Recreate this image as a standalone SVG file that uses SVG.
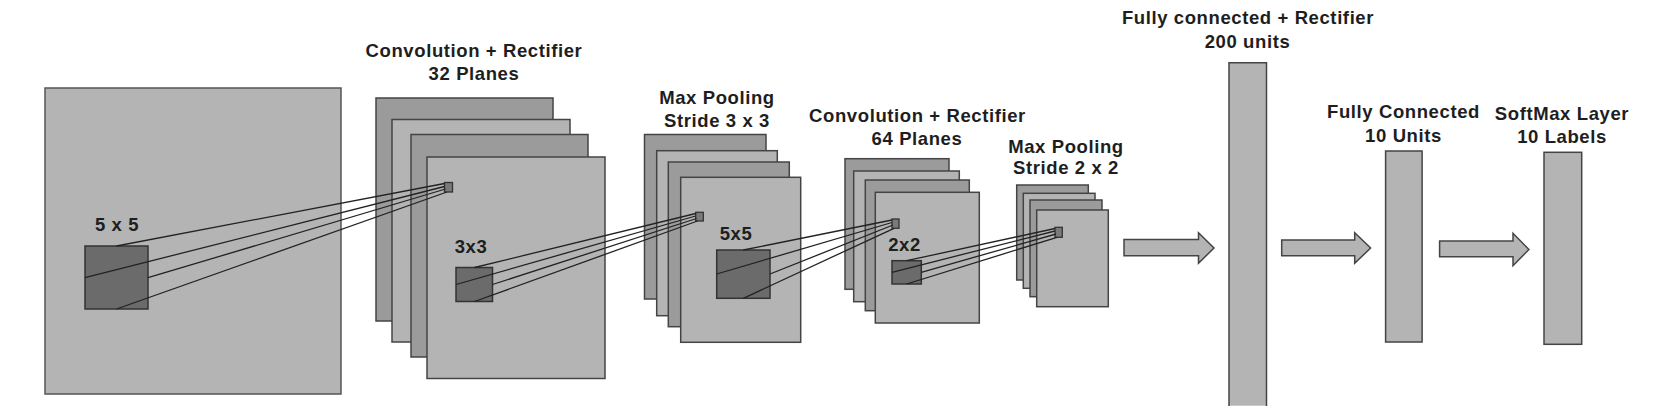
<svg xmlns="http://www.w3.org/2000/svg" width="1662" height="418" viewBox="0 0 1662 418">
<style>
.lt{fill:#b4b4b4;stroke:#444;stroke-width:1.5}
.dk{fill:#9b9b9b;stroke:#444;stroke-width:1.5}
.kr{fill:#6b6b6b;stroke:#333;stroke-width:1.5}
.sq{fill:#7a7a7a;stroke:#333;stroke-width:1.3}
.t{font-family:"Liberation Sans",Arial,sans-serif;font-weight:bold;font-size:18.5px;letter-spacing:0.6px;fill:#1e1e1e;text-anchor:middle}
.ln{stroke:#222;stroke-width:1.3;fill:none}
.ar{fill:#b4b4b4;stroke:#444;stroke-width:1.5;stroke-linejoin:miter}
</style>
<rect width="1662" height="418" fill="#fff"/>
<g id="input">
<rect class="lt" x="45" y="88" width="296" height="306" style="stroke:#555"/>
<rect class="kr" x="85" y="246" width="63" height="63"/>
<text class="t" x="117" y="230.7">5 x 5</text>
</g>
<g id="conv1">
<text class="t" x="474" y="56.7">Convolution + Rectifier</text>
<text class="t" x="474" y="80">32 Planes</text>
<rect class="dk" x="376" y="98" width="177" height="223"/>
<rect class="lt" x="392" y="119.5" width="178" height="222.5"/>
<rect class="dk" x="411" y="134.5" width="177" height="222.5"/>
<rect class="lt" x="427" y="157" width="178" height="221.5"/>
<rect class="sq" x="444.5" y="182.5" width="8" height="9.5"/>
<rect class="kr" x="456" y="267.5" width="36.5" height="34"/>
<text class="t" x="471" y="252.7">3x3</text>
</g>
<g id="pool1">
<text class="t" x="717" y="104">Max Pooling</text>
<text class="t" x="717" y="126.7">Stride 3 x 3</text>
<rect class="dk" x="644.5" y="134.5" width="121.5" height="164.5"/>
<rect class="lt" x="656.7" y="150.7" width="120.6" height="165"/>
<rect class="dk" x="668.3" y="162" width="121" height="164.7"/>
<rect class="lt" x="680.7" y="177.3" width="120" height="165"/>
<rect class="sq" x="695.7" y="212.3" width="7.6" height="8.7"/>
<rect class="kr" x="716.7" y="250" width="53.3" height="48.3"/>
<text class="t" x="736" y="239.5">5x5</text>
</g>
<g id="conv2">
<text class="t" x="917.5" y="121.7">Convolution + Rectifier</text>
<text class="t" x="917" y="145">64 Planes</text>
<rect class="dk" x="845" y="158.7" width="104" height="130.6"/>
<rect class="lt" x="853.7" y="171" width="105.6" height="130.7"/>
<rect class="dk" x="865.3" y="180" width="104" height="130.7"/>
<rect class="lt" x="875.3" y="192.3" width="104" height="130.7"/>
<rect class="sq" x="892" y="219" width="7" height="9.3"/>
<rect class="kr" x="892" y="260.7" width="29.3" height="23.3"/>
<text class="t" x="904.5" y="251.2">2x2</text>
</g>
<g id="pool2">
<text class="t" x="1066" y="152.7">Max Pooling</text>
<text class="t" x="1066" y="174">Stride 2 x 2</text>
<rect class="dk" x="1016.7" y="185" width="71.6" height="95"/>
<rect class="lt" x="1023.3" y="193.3" width="71.7" height="95"/>
<rect class="dk" x="1030" y="200" width="72" height="96.7"/>
<rect class="lt" x="1036.7" y="210" width="71.6" height="96.7"/>
<rect class="sq" x="1055" y="227.3" width="7.3" height="10"/>
</g>
<g id="fc1">
<text class="t" x="1248" y="24">Fully connected + Rectifier</text>
<text class="t" x="1247.5" y="47.7">200 units</text>
<rect x="1229" y="62.7" width="37.5" height="343" fill="#b4b4b4"/>
<path d="M1229,406 V62.7 H1266.5 V406" fill="none" stroke="#444" stroke-width="1.5"/>
</g>
<g id="fc2">
<text class="t" x="1403.5" y="118.3">Fully Connected</text>
<text class="t" x="1403.5" y="141.7">10 Units</text>
<rect class="lt" x="1385.6" y="151" width="36.5" height="191"/>
</g>
<g id="softmax">
<text class="t" x="1562" y="120">SoftMax Layer</text>
<text class="t" x="1562" y="143.3">10 Labels</text>
<rect class="lt" x="1544" y="152.3" width="37.7" height="192"/>
</g>
<g id="connectors">
<line class="ln" x1="116.5" y1="246" x2="444.5" y2="183.5"/>
<line class="ln" x1="85" y1="277.7" x2="444.5" y2="186.5"/>
<line class="ln" x1="148" y1="277.7" x2="445.5" y2="189"/>
<line class="ln" x1="116.5" y1="309" x2="447" y2="192"/>
<line class="ln" x1="474.5" y1="267.5" x2="695.7" y2="213.5"/>
<line class="ln" x1="456" y1="284.5" x2="695.7" y2="216"/>
<line class="ln" x1="492.5" y1="284.5" x2="696.5" y2="218.5"/>
<line class="ln" x1="474.5" y1="301.5" x2="697.5" y2="221"/>
<line class="ln" x1="743.3" y1="250" x2="892" y2="220"/>
<line class="ln" x1="716.7" y1="274" x2="892" y2="222.5"/>
<line class="ln" x1="770" y1="274" x2="893" y2="225"/>
<line class="ln" x1="743.3" y1="298.3" x2="894" y2="228.3"/>
<line class="ln" x1="906.7" y1="260.7" x2="1055" y2="228.5"/>
<line class="ln" x1="892" y1="272.3" x2="1055" y2="231"/>
<line class="ln" x1="921.3" y1="272.3" x2="1056" y2="234"/>
<line class="ln" x1="906.7" y1="284" x2="1057" y2="237.3"/>
<path class="ar" d="M1124,239.5 H1198.5 V232.7 L1214,248 L1198.5,263.3 V255.7 H1124 Z"/>
<path class="ar" d="M1281.7,240 H1354.7 V232.7 L1370.6,248 L1354.7,263.3 V255.7 H1281.7 Z"/>
<path class="ar" d="M1439.6,241 H1513 V233.3 L1528.9,249.5 L1513,265.7 V256.7 H1439.6 Z"/>
</g>
</svg>
